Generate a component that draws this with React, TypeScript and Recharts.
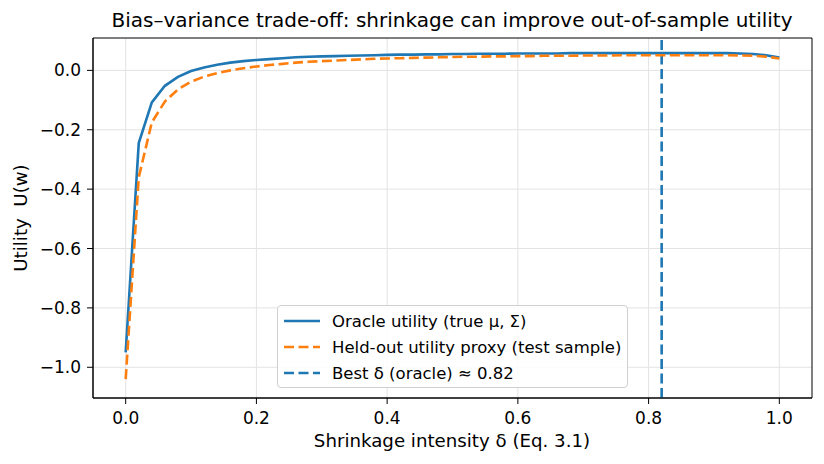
import React from "react";
import {
  LineChart,
  Line,
  XAxis,
  YAxis,
  CartesianGrid,
  ReferenceLine,
  ReferenceArea,
} from "recharts";

const deltas = [
  0, 0.02, 0.04, 0.06, 0.08, 0.1, 0.12, 0.14, 0.16, 0.18, 0.2, 0.22, 0.24, 0.26,
  0.28, 0.3, 0.32, 0.34, 0.36, 0.38, 0.4, 0.42, 0.44, 0.46, 0.48, 0.5, 0.52,
  0.54, 0.56, 0.58, 0.6, 0.62, 0.64, 0.66, 0.68, 0.7, 0.72, 0.74, 0.76, 0.78,
  0.8, 0.82, 0.84, 0.86, 0.88, 0.9, 0.92, 0.94, 0.96, 0.98, 1.0,
];

const oracleUtility = [
  -0.95, -0.245, -0.108, -0.052, -0.022, -0.002, 0.01, 0.019, 0.026, 0.031,
  0.035, 0.038, 0.041, 0.044, 0.046, 0.047, 0.048, 0.049, 0.05, 0.051, 0.052,
  0.053, 0.053, 0.054, 0.054, 0.055, 0.055, 0.056, 0.056, 0.056, 0.057, 0.057,
  0.057, 0.057, 0.058, 0.058, 0.058, 0.058, 0.058, 0.058, 0.058, 0.058, 0.058,
  0.058, 0.058, 0.058, 0.058, 0.057, 0.055, 0.051, 0.043,
];

const heldOutUtility = [
  -1.04, -0.36, -0.175, -0.105, -0.064, -0.038, -0.021, -0.009, 0.0, 0.007,
  0.013, 0.018, 0.022, 0.026, 0.029, 0.031, 0.033, 0.035, 0.037, 0.039, 0.04,
  0.041, 0.042, 0.043, 0.044, 0.045, 0.046, 0.046, 0.047, 0.047, 0.048, 0.048,
  0.049, 0.049, 0.049, 0.05, 0.05, 0.05, 0.051, 0.051, 0.051, 0.051, 0.051,
  0.051, 0.051, 0.051, 0.051, 0.05, 0.049, 0.046, 0.04,
];

const bestDelta = 0.82;
const xTicks = [0, 0.2, 0.4, 0.6, 0.8, 1.0];
const yTicks = [-1.0, -0.8, -0.6, -0.4, -0.2, 0.0];

const titleText =
  "Bias–variance trade-off: shrinkage can improve out-of-sample utility";
const xLabel = "Shrinkage intensity δ (Eq. 3.1)";
const yLabel = "Utility  U(w)";

const legendItems = [
  { label: "Oracle utility (true μ, Σ)", color: "#1f77b4", dash: "" },
  { label: "Held-out utility proxy (test sample)", color: "#ff7f0e", dash: "10 4.5" },
  { label: "Best δ (oracle) ≈ 0.82", color: "#1f77b4", dash: "10 4.5" },
];

const data = deltas.map((d, i) => ({
  x: d,
  oracle: oracleUtility[i],
  heldOut: heldOutUtility[i],
}));

const FONT = "DejaVu Sans";
const X_DOMAIN: [number, number] = [-0.05, 1.05];
const Y_DOMAIN: [number, number] = [-1.1035, 0.109];

const fmt = (v: number) => {
  const s = v.toFixed(1);
  return s.startsWith("-") ? "−" + s.slice(1) : s;
};

export default function App() {
  return (
    <div
      style={{
        position: "absolute",
        left: 0,
        top: 0,
        width: 824,
        height: 464,
        background: "#fff",
        fontFamily: FONT,
      }}
    >
      <LineChart
        width={824}
        height={464}
        data={data}
        margin={{ top: 38, right: 12, bottom: 36, left: 0 }}
        style={{ fontFamily: FONT }}
      >
        <CartesianGrid
          stroke="#e3e3e3"
          strokeWidth={1}
          verticalValues={xTicks}
          horizontalValues={yTicks}
        />
        <XAxis
          type="number"
          dataKey="x"
          domain={X_DOMAIN}
          ticks={xTicks}
          allowDataOverflow
          tickFormatter={fmt}
          height={30}
          tickSize={6}
          tickMargin={8}
          stroke="#000"
          tick={{ fill: "#000", fontSize: 17, fontFamily: FONT }}
        />
        <YAxis
          type="number"
          domain={Y_DOMAIN}
          ticks={yTicks}
          allowDataOverflow
          tickFormatter={fmt}
          width={93}
          tickSize={6}
          tickMargin={6}
          stroke="#000"
          tick={{ fill: "#000", fontSize: 17, fontFamily: FONT }}
        />
        <ReferenceArea
          x1={X_DOMAIN[0]}
          x2={X_DOMAIN[1]}
          y1={Y_DOMAIN[0]}
          y2={Y_DOMAIN[1]}
          fill="none"
          stroke="#000"
          strokeWidth={1}
          ifOverflow="extendDomain"
        />
        <ReferenceLine
          x={bestDelta}
          stroke="#1f77b4"
          strokeWidth={2.6}
          strokeDasharray="10 4.5"
        />
        <Line
          type="linear"
          dataKey="oracle"
          stroke="#1f77b4"
          strokeWidth={2.6}
          dot={false}
          isAnimationActive={false}
        />
        <Line
          type="linear"
          dataKey="heldOut"
          stroke="#ff7f0e"
          strokeWidth={2.6}
          strokeDasharray="10 4.5"
          dot={false}
          isAnimationActive={false}
        />
        <text
          x={452}
          y={27}
          textAnchor="middle"
          fontSize={20}
          fontFamily={FONT}
          fill="#000"
        >
          {titleText}
        </text>
        <text
          x={452}
          y={447}
          textAnchor="middle"
          fontSize={18.2}
          fontFamily={FONT}
          fill="#000"
        >
          {xLabel}
        </text>
        <text
          x={27}
          y={218}
          transform="rotate(-90, 27, 218)"
          textAnchor="middle"
          fontSize={18.2}
          fontFamily={FONT}
          fill="#000"
          style={{ whiteSpace: "pre" }}
        >
          {yLabel}
        </text>
      </LineChart>
      <div
        style={{
          position: "absolute",
          left: 277,
          top: 305,
          width: 349,
          height: 81,
          border: "1px solid #d0d0d0",
          borderRadius: 4,
          background: "rgba(255,255,255,0.85)",
        }}
      >
        {legendItems.map((it, i) => (
          <div
            key={i}
            style={{
              position: "absolute",
              left: 0,
              top: 2 + i * 26,
              height: 26,
              display: "flex",
              alignItems: "center",
              whiteSpace: "nowrap",
            }}
          >
            <svg width={54} height={26} style={{ display: "block" }}>
              <line
                x1={6}
                x2={42}
                y1={13}
                y2={13}
                stroke={it.color}
                strokeWidth={2.6}
                strokeDasharray={it.dash || undefined}
              />
            </svg>
            <span style={{ fontSize: 16.5, color: "#000", fontFamily: FONT }}>
              {it.label}
            </span>
          </div>
        ))}
      </div>
    </div>
  );
}
